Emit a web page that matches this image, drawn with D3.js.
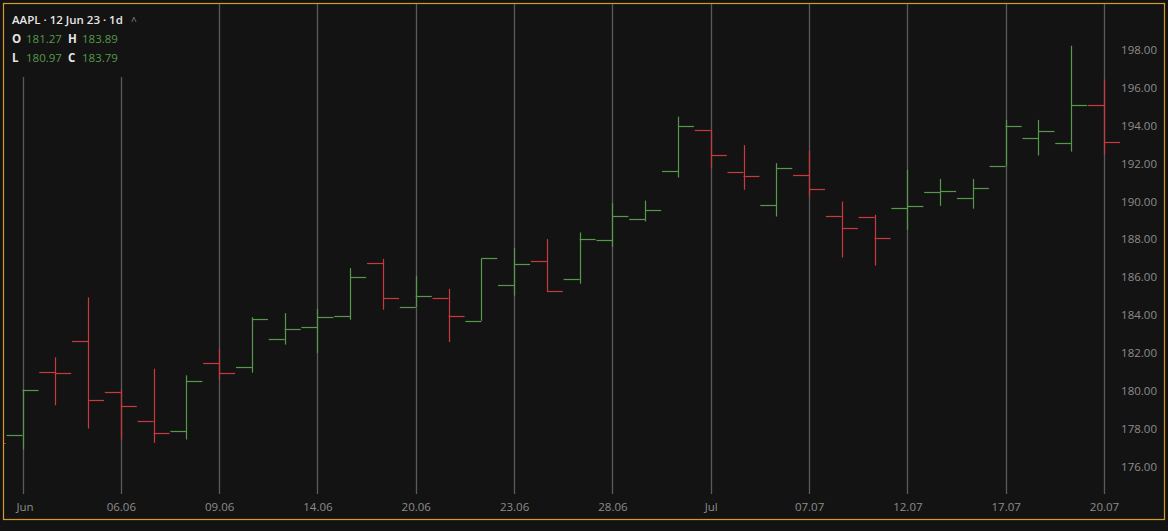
<!DOCTYPE html>
<html><head><meta charset="utf-8">
<script src="https://cdn.jsdelivr.net/npm/d3@7"></script>
<style>body{margin:0;background:#131313}svg{display:block}</style></head>
<body><svg id="c" width="1168" height="531"></svg>
<script>
const barIndex=[-1,0,1,2,3,4,5,6,7,8,9,10,11,12,13,14,15,16,17,18,19,20,21,22,23,24,25,26,27,28,29,30,31,32,33];
const opens =[177.9,177.71,181.01,182.62,179.96,178.41,177.88,181.48,181.27,182.76,183.38,183.97,186.75,184.43,184.9,183.71,185.57,186.83,185.9,187.94,189.06,191.62,193.76,191.54,189.82,191.39,189.25,189.17,189.67,190.48,190.2,191.88,193.34,193.09,195.09];
const highs =[178.5,180.08,181.78,184.94,180.08,181.18,180.83,182.24,183.89,184.11,184.34,186.48,186.97,186.08,185.39,186.99,187.54,188.01,188.36,189.91,190.04,194.46,193.76,192.96,192.01,192.66,189.99,189.29,191.66,191.18,191.18,194.29,194.29,198.2,196.43];
const lows  =[176.8,176.92,179.25,178.03,177.45,177.27,177.45,180.6,180.97,182.45,182.01,183.76,184.29,184.43,182.59,183.71,185.03,185.25,185.66,187.59,188.94,191.25,191.75,190.61,189.2,190.25,187.04,186.61,188.5,189.76,189.61,191.88,192.41,192.62,192.45];
const closes=[177.24,180.08,180.96,179.55,179.2,177.8,180.55,180.96,183.79,183.27,183.91,185.99,184.9,185.03,183.97,186.99,186.7,185.25,188.03,189.25,189.55,193.96,192.43,191.34,191.78,190.64,188.62,188.06,189.76,190.55,190.69,193.96,193.71,195.09,193.11];
const dateTicks=[0,3,6,9,12,15,18,21,24,27,30,33];
const dateLabels=["Jun","06.06","09.06","14.06","20.06","23.06","28.06","Jul","07.07","12.07","17.07","20.07"];
const priceTicks=[176,178,180,182,184,186,188,190,192,194,196,198];
const legendBar=8;

const svg=d3.select("#c");
const x=d3.scaleLinear().domain([0,33]).range([22.5,1104]);
const y=d3.scaleLinear().domain([176,198]).range([467,49.5]);
const font="'Open Sans',sans-serif";
const up="#55994a",dn="#c9393d";

svg.append("rect").attr("x",3.5).attr("y",3.5).attr("width",1161).attr("height",516).attr("fill","#131313").attr("stroke","#d49a2c").attr("stroke-width",1.2);
const clip=svg.append("clipPath").attr("id","cl").append("rect").attr("x",4).attr("y",4).attr("width",1160).attr("height",515);
const g=svg.append("g").attr("clip-path","url(#cl)");

g.selectAll(".grid").data(dateTicks).join("line")
 .attr("x1",d=>Math.round(x(d))+0.5).attr("x2",d=>Math.round(x(d))+0.5)
 .attr("y1",(d,i)=>i<2?77:4).attr("y2",494).attr("stroke","#5a5a5a").attr("stroke-width",1.3);

const data=barIndex.map((b,i)=>({b,o:opens[i],h:highs[i],l:lows[i],c:closes[i]}));
const bg=g.selectAll(".bar").data(data).join("g").attr("stroke",d=>d.c>=d.o?up:dn).attr("stroke-width",1.2);
bg.append("line").attr("x1",d=>Math.round(x(d.b))+0.5).attr("x2",d=>Math.round(x(d.b))+0.5).attr("y1",d=>y(d.h)).attr("y2",d=>y(d.l));
bg.append("line").attr("x1",d=>x(d.b)-16).attr("x2",d=>x(d.b)).attr("y1",d=>Math.round(y(d.o))+0.5).attr("y2",d=>Math.round(y(d.o))+0.5);
bg.append("line").attr("x1",d=>x(d.b)).attr("x2",d=>x(d.b)+16).attr("y1",d=>Math.round(y(d.c))+0.5).attr("y2",d=>Math.round(y(d.c))+0.5);

const ya=svg.append("g").attr("transform","translate(1157,0)")
 .call(d3.axisRight(y).tickValues(priceTicks).tickFormat(d3.format(".2f")).tickSize(0));
ya.select(".domain").remove();
ya.selectAll("text").attr("x",0).attr("text-anchor","end").attr("fill","#8c8c8c").style("font-family",font).style("font-size","11.5px");

const xa=svg.append("g").attr("transform","translate(0,500)")
 .call(d3.axisBottom(x).tickValues(dateTicks).tickFormat((d,i)=>dateLabels[i]).tickSize(0));
xa.select(".domain").remove();
xa.selectAll("text").attr("fill","#8c8c8c").style("font-family",font).style("font-size","11.5px");
xa.selectAll(".tick").filter((d,i)=>i===0).select("text").attr("dx",2);

const lg=svg.append("g").style("font-family",font).style("font-size","11.5px");
lg.append("text").attr("x",12).attr("y",24).attr("fill","#e6e6e6").attr("font-weight","600").text("AAPL · 12 Jun 23 · 1d");
lg.append("text").attr("x",131).attr("y",25).attr("fill","#888").style("font-size","10px").text("^");
const leg=[["O",12,43,opens[legendBar]],["H",68,43,highs[legendBar]],["L",12,62,lows[legendBar]],["C",68,62,closes[legendBar]]];
leg.forEach(([k,lx,ly,v])=>{
  lg.append("text").attr("x",lx).attr("y",ly).attr("fill","#e6e6e6").attr("font-weight","700").text(k);
  lg.append("text").attr("x",lx+14).attr("y",ly).attr("fill",up).text(v.toFixed(2));
});
</script></body></html>
